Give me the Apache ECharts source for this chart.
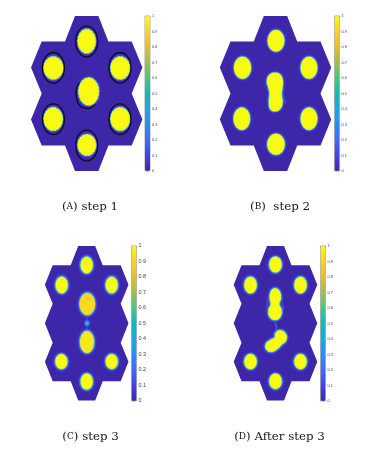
<!DOCTYPE html>
<html>
<head>
<meta charset="utf-8">
<title>Hexagon phase field steps</title>
<script src="https://cdn.jsdelivr.net/npm/echarts@6/dist/echarts.min.js"></script>
<style>
html, body { margin: 0; padding: 0; background: #fff; }
#container { width: 368px; height: 452px; }
/* the source is a soft scan, take the hard edge off */
#container canvas { filter: blur(0.35px); }
</style>
</head>
<body>
<div id="container"></div>
<script>
// colour scale and its ticks
const parulaColors = ['#3e26a8', '#4741e5', '#4269fe', '#2d8cf3', '#1ca9df', '#0fb9bd',
    '#48c781', '#a0be4e', '#eeba30', '#fbd025', '#f9fb15'];
const tickValues = [0, 0.1, 0.2, 0.3, 0.4, 0.5, 0.6, 0.7, 0.8, 0.9, 1];

// domain outlines, x and y measured from the middle of the domain (y down)
const twoLobeOutline = [[-11.7, -77.5], [11.7, -77.5], [21.7, -52], [45, -52], [55.7, -26], [45, 0],
    [55.7, 26], [45, 52], [21.7, 52], [11.7, 77.5], [-11.7, 77.5], [-21.7, 52], [-45, 52],
    [-55.7, 26], [-45, 0], [-55.7, -26], [-45, -52], [-21.7, -52]];
const threeLobeOutline = [[-8.5, -77.3], [8.5, -77.3], [16, -58], [34, -58], [41.8, -38.5], [34, -19.5],
    [41.8, 0], [34, 19.5], [41.8, 38.5], [34, 58], [16, 58], [8.5, 77.3], [-8.5, 77.3], [-16, 58],
    [-34, 58], [-41.8, 38.5], [-34, 19.5], [-41.8, 0], [-34, -19.5], [-41.8, -38.5], [-34, -58], [-16, -58]];

// drops as ellipses: x, y, x radius, y radius, value
const step1Drops = [[0, -52.3, 8.8, 12, 1], [-33.3, -25.5, 9.6, 11.3, 1], [33.5, -25.5, 9.5, 11.3, 1],
    [-33.5, 25.5, 9.3, 11.6, 1], [33.5, 25.5, 9.5, 11.6, 1], [0.2, 51.5, 9, 10.6, 1], [2, -2, 10, 13.7, 1]];
const step2Drops = [[0.5, -52.7, 8.3, 10.8, 1], [-33, -25.8, 8.5, 11, 1], [33.5, -25.8, 8.3, 11, 1],
    [-33.7, 25.2, 8.2, 11.2, 1], [33.5, 25.2, 8.3, 11.2, 1], [0.5, 50.8, 8.7, 10.5, 1]];
const step3Drops = [[0, -58.3, 6, 8.3, 1], [-25, -38.3, 6, 8.3, 1], [25, -38.3, 6, 8.3, 1],
    [-25.3, 38.3, 6, 7.5, 1], [25, 38.3, 6, 7.5, 1], [0, 58.3, 6, 8, 1],
    [0.6, -19.3, 7.7, 11, 0.92], [0.3, 18.7, 7, 11, 0.95], [0.3, 0, 1, 1.3, 0.55]];
const afterStep3Drops = [[0, -58.7, 6.2, 8, 1], [-25, -38.3, 6.2, 8.3, 1], [25, -38.3, 6.2, 8.3, 1],
    [-25, 38.3, 6.2, 7.7, 1], [25, 38.3, 6.2, 7.7, 1], [0, 58, 6.2, 7.7, 1]];

// merged drops as closed outlines
const step2Merged = [[[-0.5, -20.7], [5, -18.7], [7.3, -12.8], [7, -6.2], [6.3, 1.5], [7, 9.2], [4.4, 15.8],
    [-0.5, 17.8], [-5.2, 15.8], [-6.6, 8.2], [-6, -0.2], [-7.3, -6.2], [-8.6, -12.8], [-6, -18.7]]];
const afterStep3Merged = [
    [[-0.5, -35], [4, -32], [5.4, -25], [3.8, -19], [6.1, -13.3], [4.6, -6], [-0.5, -3.3], [-5.6, -6],
        [-7, -13.3], [-4.8, -19], [-5.7, -25], [-4.6, -32]],
    [[4.5, 7], [10.2, 10.5], [10.6, 17], [5.8, 21.8], [1.8, 25.8], [-3.8, 28.5], [-9, 26.4], [-9.6, 20.6],
        [-5.2, 16.6], [-1, 14.2], [0, 9.6]]
];

// thin leftovers: value, then the points along them
const step2Wisps = [[0.16, [[7.8, 1], [8.8, 6], [10.4, 10]]]];
const step3Wisps = [[0.14, [[0.3, -9], [0.3, 8]]]];
const afterStep3Wisps = [[0.16, [[-7.4, -26], [-8.6, -18], [-8, -11]]], [0.14, [[6.8, -21], [7.9, -15], [7.4, -10]]],
    [0.22, [[-0.5, -1], [0.8, 3], [0, 7]]]];

// the black initial circles of step 1
const step1Circles = [[0, -52, 11, 15.3], [-33.3, -25.7, 11, 15.3], [33.3, -25.7, 11, 15.3],
    [-33.3, 25.7, 11, 15.3], [33.3, 25.7, 11, 15.3], [0, 52, 11, 15.3]];
const step1Arc = [[-7.3, -10.8], [-10.7, -1.8], [-9.3, 8.2], [-3.3, 14.2], [1.7, 14.8], [8.3, 10.8]];

const panels = [
    { caption: '{t|(}{c|A}{t|) step 1}', captionX: 90, captionY: 200.5, cx: 86.7, cy: 93.5, hw: 56, hh: 78,
      outline: twoLobeOutline, drops: step1Drops, merged: [], wisps: [], circles: step1Circles, arc: step1Arc,
      barX: 145, barY: 16, barW: 5, barH: 155, tickSize: 3.8, halo: 1.4, rough: true },
    { caption: '{t|(}{c|B}{t|)  step 2}', captionX: 280, captionY: 200.5, cx: 275.5, cy: 93.5, hw: 56, hh: 78,
      outline: twoLobeOutline, drops: step2Drops, merged: step2Merged, wisps: step2Wisps, circles: [], arc: null,
      barX: 334.5, barY: 16, barW: 5, barH: 155, tickSize: 3.8, halo: 1.3 },
    { caption: '{t|(}{c|C}{t|) step 3}', captionX: 90.5, captionY: 430.5, cx: 86.7, cy: 323.3, hw: 42, hh: 78,
      outline: threeLobeOutline, drops: step3Drops, merged: [], wisps: step3Wisps, circles: [], arc: null,
      barX: 131.5, barY: 246, barW: 5, barH: 155, tickSize: 5.4, halo: 1.9 },
    { caption: '{t|(}{c|D}{t|) After step 3}', captionX: 279.5, captionY: 430.5, cx: 275.5, cy: 323.3, hw: 42, hh: 78,
      outline: threeLobeOutline, drops: afterStep3Drops, merged: afterStep3Merged, wisps: afterStep3Wisps, circles: [], arc: null,
      barX: 320.5, barY: 246, barW: 5, barH: 155, tickSize: 3.8, halo: 1.7 }
];

function colorOf(value) {
    return echarts.color.lerp(value, parulaColors);
}

function dropLayers(makeShape, value, panel) {
    var layers = [
        { lineWidth: panel.halo * 2, stroke: colorOf(0.14), fill: colorOf(0.14), shadowBlur: 3, shadowColor: colorOf(0.08) },
        { lineWidth: panel.halo * 1.1, stroke: colorOf(0.3), fill: colorOf(0.3) },
        { lineWidth: panel.halo * 0.5, stroke: colorOf(0.62), fill: colorOf(0.62) },
        { lineWidth: 0, fill: colorOf(value) }
    ];
    var children = layers.map(function (style) {
        return Object.assign(makeShape(), { style: style });
    });
    if (panel.rough) {
        // step 1 has a jagged mesh edge
        children.push(Object.assign(makeShape(), {
            style: { fill: 'none', stroke: colorOf(1), lineWidth: 1, lineDash: [1.4, 2.2] }
        }));
    }
    return { type: 'group', children: children };
}

var option = {
    animation: false,
    backgroundColor: '#fff',
    title: [], grid: [], xAxis: [], yAxis: [], series: [], visualMap: []
};

panels.forEach(function (panel, p) {
    var mapIndex = p * 2;
    var tickIndex = p * 2 + 1;

    option.title.push({
        text: panel.caption,
        left: panel.captionX,
        top: panel.captionY,
        textAlign: 'center',
        padding: 0,
        textStyle: {
            fontWeight: 'normal',
            rich: {
                t: { fontFamily: 'DejaVu Serif', fontSize: 11.8, fontWeight: 'normal', color: '#151515' },
                c: { fontFamily: 'DejaVu Serif', fontSize: 9, fontWeight: 'normal', color: '#151515' }
            }
        }
    });

    option.grid.push({
        left: panel.cx - panel.hw, top: panel.cy - panel.hh,
        width: panel.hw * 2, height: panel.hh * 2
    });
    option.xAxis.push({ type: 'value', gridIndex: mapIndex, min: -panel.hw, max: panel.hw, show: false });
    option.yAxis.push({ type: 'value', gridIndex: mapIndex, min: -panel.hh, max: panel.hh, inverse: true, show: false });

    // colour bar ticks live in their own small grid
    option.grid.push({
        left: panel.barX, top: panel.barY, width: panel.barW, height: panel.barH,
        show: true, borderColor: '#555', borderWidth: 0.5, backgroundColor: 'transparent'
    });
    option.xAxis.push({ type: 'value', gridIndex: tickIndex, min: 0, max: 1, show: false });
    option.yAxis.push({
        type: 'value', gridIndex: tickIndex, min: 0, max: 1, interval: 0.1, position: 'right',
        axisLine: { show: false }, axisTick: { show: false }, splitLine: { show: false },
        axisLabel: {
            margin: 2, fontSize: panel.tickSize, color: '#444', fontFamily: 'Liberation Sans',
            formatter: function (v) { return tickValues.indexOf(+v.toFixed(1)) >= 0 ? String(+v.toFixed(1)) : ''; }
        }
    });

    // domain
    option.series.push({
        type: 'custom', xAxisIndex: mapIndex, yAxisIndex: mapIndex, clip: false, silent: true,
        data: [panel.outline[0]], encode: { x: 0, y: 1 },
        renderItem: function (params, api) {
            return {
                type: 'polygon',
                shape: { points: panel.outline.map(function (pt) { return api.coord(pt); }) },
                style: { fill: colorOf(0) }
            };
        }
    });

    // wisps under the drops
    option.series.push({
        type: 'custom', xAxisIndex: mapIndex, yAxisIndex: mapIndex, clip: false, silent: true,
        data: panel.wisps.map(function (w) { return w[1][0]; }), encode: { x: 0, y: 1 },
        renderItem: function (params, api) {
            var wisp = panel.wisps[params.dataIndex];
            return {
                type: 'polyline',
                shape: { points: wisp[1].map(function (pt) { return api.coord(pt); }), smooth: 0.4 },
                style: { fill: 'none', stroke: colorOf(wisp[0]), lineWidth: 1.2 }
            };
        }
    });

    // ellipse drops
    var dropSeriesIndex = option.series.length;
    option.series.push({
        type: 'custom', xAxisIndex: mapIndex, yAxisIndex: mapIndex, clip: false, silent: true,
        data: panel.drops, encode: { x: 0, y: 1 },
        renderItem: function (params, api) {
            var c = api.coord([api.value(0), api.value(1)]);
            var r = api.size([api.value(2), api.value(3)]);
            return dropLayers(function () {
                return { type: 'ellipse', shape: { cx: c[0], cy: c[1], rx: r[0], ry: r[1] } };
            }, api.value(4), panel);
        }
    });

    // merged drops
    option.series.push({
        type: 'custom', xAxisIndex: mapIndex, yAxisIndex: mapIndex, clip: false, silent: true,
        data: panel.merged.map(function (m) { return m[0]; }), encode: { x: 0, y: 1 },
        renderItem: function (params, api) {
            var pts = panel.merged[params.dataIndex].map(function (pt) { return api.coord(pt); });
            return dropLayers(function () {
                return { type: 'polygon', shape: { points: pts, smooth: 0.5 } };
            }, 1, panel);
        }
    });

    // black circles of the first step
    if (panel.circles.length) {
        option.series.push({
            type: 'custom', xAxisIndex: mapIndex, yAxisIndex: mapIndex, clip: false, silent: true,
            data: panel.circles, encode: { x: 0, y: 1 },
            renderItem: function (params, api) {
                var c = api.coord([api.value(0), api.value(1)]);
                var r = api.size([api.value(2), api.value(3)]);
                return {
                    type: 'ellipse',
                    shape: { cx: c[0], cy: c[1], rx: r[0], ry: r[1] },
                    style: { fill: 'none', stroke: '#0c0c14', lineWidth: 1.3 }
                };
            }
        });
        option.series.push({
            type: 'line', xAxisIndex: mapIndex, yAxisIndex: mapIndex, silent: true, smooth: 0.5,
            data: panel.arc, showSymbol: false, symbol: 'none', clip: false,
            lineStyle: { color: '#0c0c14', width: 1.3 }
        });
    }

    option.visualMap.push({
        type: 'continuous', min: 0, max: 1, show: true, calculable: false, realtime: false,
        seriesIndex: dropSeriesIndex, dimension: 4, orient: 'vertical', padding: 0,
        left: panel.barX, top: panel.barY, itemWidth: panel.barW, itemHeight: panel.barH,
        inRange: { color: parulaColors }, text: null, hoverLink: false, silent: true
    });
});

var myChart = echarts.init(document.getElementById('container'), null, { renderer: 'canvas' });
myChart.setOption(option);
</script>
</body>
</html>
